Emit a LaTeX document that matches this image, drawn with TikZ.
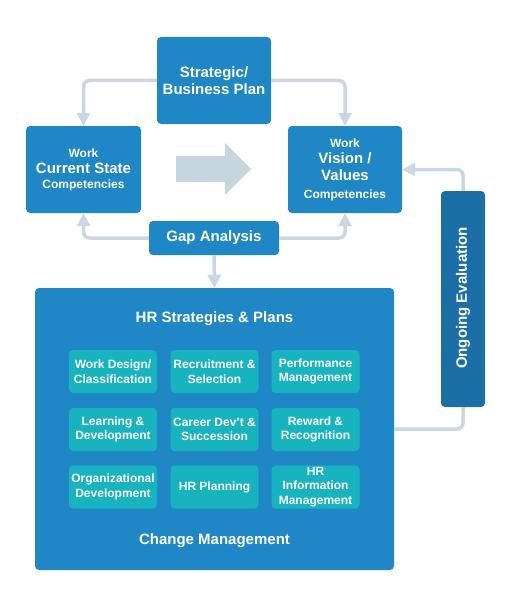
\documentclass[tikz,border=0pt]{standalone}
\usepackage{fontspec}
\setmainfont{Liberation Sans}
\usetikzlibrary{arrows.meta}
\definecolor{mainblue}{HTML}{1F87C5}
\definecolor{tealbox}{HTML}{17B3BF}
\definecolor{darkblue}{HTML}{1B6FA6}
\definecolor{connc}{HTML}{C9D7E0}
\definecolor{bigarrow}{HTML}{C6D6DF}
\newcommand{\fsA}{\fontsize{12}{14.5}\selectfont\bfseries}
\newcommand{\fsB}{\fontsize{15}{17}\selectfont\bfseries}
\begin{document}
\begin{tikzpicture}[x=1pt,y=-1pt,
  bluebox/.style={fill=mainblue,rounded corners=4pt,text=white,align=center,inner sep=0pt,font=\fsB},
  subbox/.style={fill=tealbox,rounded corners=4pt,text=white,align=center,inner sep=0pt,
    minimum width=88pt,minimum height=43pt,font=\fsA},
  conn/.style={draw=connc,line width=3.5pt,rounded corners=6pt},
  arr/.style={conn,-{Triangle[width=13pt,length=13pt]}}]
\useasboundingbox[fill=white] (0,0) rectangle (506,607);
% top boxes
\node[bluebox,minimum width=114pt,minimum height=87pt] (strat) at (214,80.5)
  {Strategic/\\Business Plan};
\node[bluebox,minimum width=115pt,minimum height=87pt] (cur) at (83.5,169.5)
  {{\fsA Work}\\[-1pt]Current State\\[-2pt]{\fsA Competencies}};
\node[bluebox,minimum width=114pt,minimum height=87pt] (vis) at (345,169.5)
  {{\fsA Work}\\[-1pt]Vision /\\Values\\[1pt]{\fsA Competencies}};
\node[bluebox,minimum width=130pt,minimum height=34pt] (gap) at (214,238) {Gap Analysis};
% big arrow
\fill[bigarrow] (176,156) -- (225,156) -- (225,143) -- (251,169) -- (225,195) -- (225,182) -- (176,182) -- cycle;
% HR box
\node[fill=mainblue,rounded corners=4pt,minimum width=359pt,minimum height=282pt,inner sep=0pt] (hr) at (214.5,429) {};
\node[text=white,font=\fsB] (hrt) at (214.5,319) {HR Strategies \& Plans};
\node[text=white,font=\fsB] (chg) at (214.5,541) {Change Management};
\node[subbox] (s11) at (113,371.5) {Work Design/\\Classification};
\node[subbox] (s12) at (214.5,371.5) {Recruitment \&\\Selection};
\node[subbox] (s13) at (315.5,371.5) {Performance\\Management};
\node[subbox] (s21) at (113,429.5) {Learning \&\\Development};
\node[subbox] (s22) at (214.5,429.5) {Career Dev't \&\\Succession};
\node[subbox] (s23) at (315.5,429.5) {Reward \&\\Recognition};
\node[subbox] (s31) at (113,487) {Organizational\\Development};
\node[subbox] (s32) at (214.5,487) {HR Planning};
\node[subbox] (s33) at (315.5,487) {HR\\Information\\Management};
% ongoing evaluation
\node[fill=darkblue,rounded corners=4pt,minimum width=44pt,minimum height=216pt,inner sep=0pt] (ong) at (463,299) {};
\node[text=white,font=\fsB,rotate=90] (ongt) at (463,298) {Ongoing Evaluation};
% connectors
\draw[arr] (strat.west) -| (cur.north);
\draw[arr] (strat.east) -| (vis.north);
\draw[arr] (gap.west) -| (cur.south);
\draw[arr] (gap.east) -| (vis.south);
\draw[arr] (gap.south) -- (hr.north);
\draw[arr] (ong.north) |- (vis.east);
\draw[conn] (hr.east) -| (ong.south);
\end{tikzpicture}
\end{document}
